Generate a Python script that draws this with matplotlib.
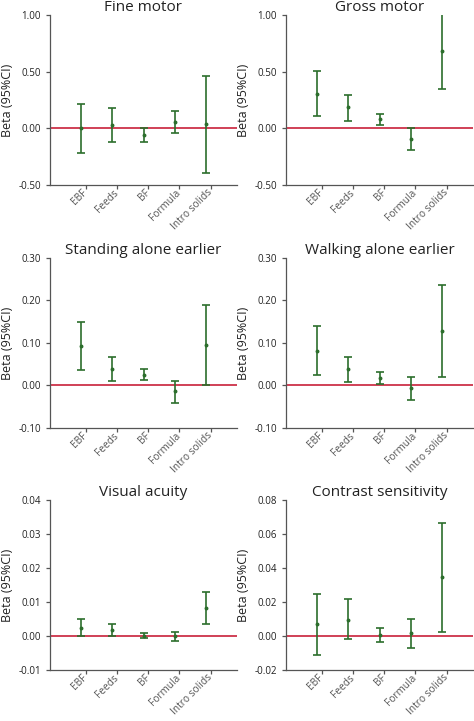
import matplotlib.pyplot as plt
from matplotlib.ticker import FormatStrFormatter

plt.rcParams['font.family'] = ['Open Sans', 'DejaVu Sans']

categories = ['EBF', 'Feeds', 'BF', 'Formula', 'Intro solids']
titles = ['Fine motor', 'Gross motor', 'Standing alone earlier',
          'Walking alone earlier', 'Visual acuity', 'Contrast sensitivity']

# beta, lower CI, upper CI per outcome
fine_beta = [0.00, 0.03, -0.06, 0.055, 0.04]
fine_lo = [-0.215, -0.12, -0.12, -0.045, -0.39]
fine_hi = [0.215, 0.18, 0.00, 0.15, 0.465]

gross_beta = [0.306, 0.184, 0.083, -0.092, 0.68]
gross_lo = [0.107, 0.068, 0.027, -0.187, 0.347]
gross_hi = [0.505, 0.297, 0.13, 0.0, 1.01]

stand_beta = [0.093, 0.039, 0.024, -0.014, 0.096]
stand_lo = [0.037, 0.011, 0.012, -0.041, 0.0]
stand_hi = [0.150, 0.067, 0.038, 0.010, 0.189]

walk_beta = [0.082, 0.039, 0.018, -0.007, 0.129]
walk_lo = [0.024, 0.009, 0.003, -0.035, 0.021]
walk_hi = [0.141, 0.068, 0.032, 0.020, 0.236]

vis_beta = [0.0025, 0.0017, 0.0001, -0.0001, 0.0082]
vis_lo = [0.0, 0.0, -0.0006, -0.0014, 0.0036]
vis_hi = [0.0050, 0.0034, 0.0008, 0.0013, 0.0129]

con_beta = [0.0068, 0.0097, 0.0004, 0.0016, 0.0346]
con_lo = [-0.0113, -0.0019, -0.0038, -0.0073, 0.0026]
con_hi = [0.0247, 0.0218, 0.0049, 0.0101, 0.0663]

panels = [
    (fine_beta, fine_lo, fine_hi, (-0.5, 1.0), [-0.5, 0.0, 0.5, 1.0]),
    (gross_beta, gross_lo, gross_hi, (-0.5, 1.0), [-0.5, 0.0, 0.5, 1.0]),
    (stand_beta, stand_lo, stand_hi, (-0.1, 0.3), [-0.1, 0.0, 0.1, 0.2, 0.3]),
    (walk_beta, walk_lo, walk_hi, (-0.1, 0.3), [-0.1, 0.0, 0.1, 0.2, 0.3]),
    (vis_beta, vis_lo, vis_hi, (-0.01, 0.04), [-0.01, 0.0, 0.01, 0.02, 0.03, 0.04]),
    (con_beta, con_lo, con_hi, (-0.02, 0.08), [-0.02, 0.0, 0.02, 0.04, 0.06, 0.08]),
]

fig = plt.figure(figsize=(4.74, 7.21), dpi=100)

lefts = [50 / 474, 286 / 474]
tops = [15, 258, 500]
heights = [170, 170, 170]
width = 187 / 474

green = '#2c6e2c'
axis_col = '#555555'
x = list(range(1, len(categories) + 1))

for i, (beta, lo, hi, ylim, yticks) in enumerate(panels):
    row, col = divmod(i, 2)
    bottom = 1 - (tops[row] + heights[row]) / 721
    ax = fig.add_axes([lefts[col], bottom, width, heights[row] / 721])

    err = [[b - l for b, l in zip(beta, lo)], [h - b for b, h in zip(beta, hi)]]
    ax.axhline(0, color='#c8203a', lw=1.2, zorder=1)
    ax.errorbar(x, beta, yerr=err, fmt='o', color=green, ecolor=green,
                ms=1.8, elinewidth=1.2, capsize=3, capthick=1.2, zorder=2)

    ax.set_xlim(0, 6)
    ax.set_ylim(*ylim)
    ax.set_yticks(yticks)
    ax.yaxis.set_major_formatter(FormatStrFormatter('%.2f'))
    ax.set_xticks([p + 0.15 for p in x])
    ax.set_xticklabels(categories, rotation=45, ha='right', va='center',
                       rotation_mode='anchor', fontsize=7.3, color='#222222')
    ax.tick_params(axis='y', labelsize=7, colors=axis_col, labelcolor='#222222',
                   length=3, width=0.9)
    ax.tick_params(axis='x', colors=axis_col, length=3, width=0.9, pad=1.5)
    for s in ['top', 'right']:
        ax.spines[s].set_visible(False)
    for s in ['left', 'bottom']:
        ax.spines[s].set_color(axis_col)
        ax.spines[s].set_linewidth(0.9)
    ax.set_ylabel('Beta (95%CI)', fontsize=9, color='#222222', labelpad=3)
    ax.set_title(titles[i], fontsize=11, color='#222222', pad=1)

fig.savefig('out.png', dpi=100)
